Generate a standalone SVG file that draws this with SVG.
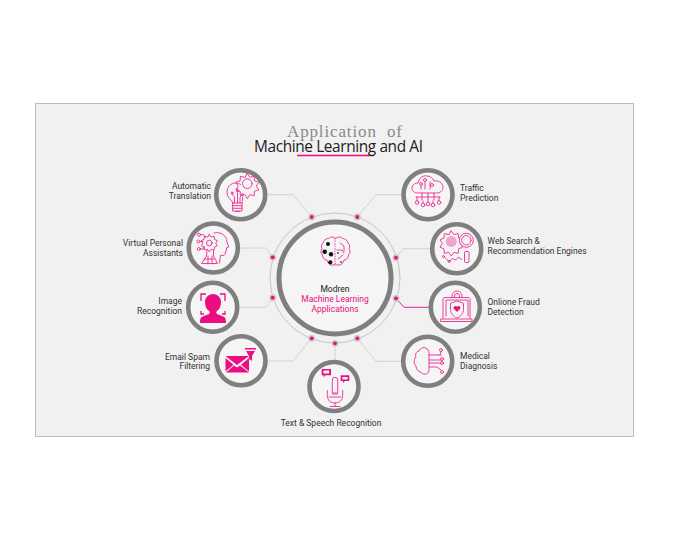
<svg xmlns="http://www.w3.org/2000/svg" width="680" height="539" viewBox="0 0 680 539">
<style>
.ring{fill:#f5f5f5;stroke:#7f7f7f;stroke-width:4.6}
.t{font-family:Roboto,"Liberation Sans",Arial,sans-serif;font-size:8.5px;fill:#333}
.r{text-anchor:end}
.m{text-anchor:middle}
.p{fill:#ec0d83}
.i{fill:none;stroke:#ee2a92;stroke-width:.9;stroke-linejoin:round;stroke-linecap:round}
.c{fill:none;stroke:#cfcfcf;stroke-width:.9}
.dh{fill:#c9c9c9}
.dc{fill:#ec0d83}
</style>
<rect width="680" height="539" fill="#fff"/>
<rect x="35.500" y="103.500" width="598" height="333" fill="#f1f1f1" stroke="#bdbdbd" stroke-width="1"/>
<g id="title">
<text x="287" y="136.500" font-family="Liberation Serif,serif" font-size="17" fill="#8a8a8a" textLength="115" lengthAdjust="spacing" xml:space="preserve">Application  of</text>
<path d="M297 155.500H374" stroke="#ec0d83" stroke-width="1.300"/>
<text x="254" y="151.700" font-family="Open Sans,sans-serif" font-size="15.400" fill="#222" textLength="169">Machine Learning and AI</text>
</g>
<g id="connectors">
<circle cx="335" cy="278" r="65" fill="none" stroke="#c4c4c4" stroke-width="1"/>
<path class="c" d="M268 194.700H293L311.700 217"/>
<path class="c" d="M240 248H266L272.700 257.300"/>
<path class="c" d="M240 307.300H266L272.700 297.700"/>
<path class="c" d="M268 361H293L311.700 338.300"/>
<path class="c" d="M401 194.700H376L357.300 217"/>
<path class="c" d="M430 248.700H403L396 257.700"/>
<path d="M429 307.300H404L396 298.300" fill="none" stroke="#ec0d83" stroke-width=".9"/>
<path class="c" d="M401 361.300H376L357.300 338.300"/>
<path class="c" d="M335 343.300V360"/>
<g class="dh"><circle cx="311.700" cy="217" r="3.400"/><circle cx="272.700" cy="257.300" r="3.400"/><circle cx="272.700" cy="297.700" r="3.400"/><circle cx="311.700" cy="338.300" r="3.400"/><circle cx="335" cy="343.300" r="3.400"/><circle cx="357.300" cy="217" r="3.400"/><circle cx="396" cy="257.700" r="3.400"/><circle cx="396" cy="298.300" r="3.400"/><circle cx="357.300" cy="338.300" r="3.400"/></g>
<g class="dc"><circle cx="311.700" cy="217" r="1.900"/><circle cx="272.700" cy="257.300" r="1.900"/><circle cx="272.700" cy="297.700" r="1.900"/><circle cx="311.700" cy="338.300" r="1.900"/><circle cx="335" cy="343.300" r="1.900"/><circle cx="357.300" cy="217" r="1.900"/><circle cx="396" cy="257.700" r="1.900"/><circle cx="396" cy="298.300" r="1.900"/><circle cx="357.300" cy="338.300" r="1.900"/></g>
</g>
<g id="center">
<circle cx="335" cy="278" r="56" fill="#f5f5f5" stroke="#7f7f7f" stroke-width="5"/>
<path class="i" d="M335 238c-2-1.500-5-1.500-6.500.5-3 0-5 2-5.500 4.500-2 1.500-2 4-1 5.500-1.500 2-1.500 5 .5 6.500 0 3 2 5 4.500 5 .5 3 3 5.500 6 5 1.500 0 2-.5 2.500-1 .5.500 1 1 2.500 1 3 .5 5.500-2 6-5 2.500 0 4.500-2 4.500-5 2-1.500 2-4.500 .5-6.500 1-1.500 1-4-1-5.500-.5-2.500-2.500-4.500-5.500-4.500-1.500-2-4.500-2-6.500-.5z"/>
<path d="M335 238V266" stroke="#ec0d83" stroke-width=".7" stroke-dasharray="1.500 1"/>
<path class="i" d="M340 243l4 3v5M337 250h5l2 3M338 259l5-4" stroke-width=".6"/>
<g fill="#111"><circle cx="328" cy="244" r="2"/><circle cx="324.700" cy="251.700" r="2.300"/><circle cx="331" cy="254.300" r="2.200"/><circle cx="330.300" cy="262.300" r="2.100"/></g>
<circle cx="338" cy="253" r="1" fill="#555"/><circle cx="341" cy="262" r="1" fill="#555"/>
<text x="335" y="292" class="t m" style="fill:#222">Modren</text>
<text x="335" y="302" class="t m" style="fill:#ec0d83">Machine Learning</text>
<text x="335" y="312" class="t m" style="fill:#ec0d83">Applications</text>
</g>
<g id="automatic-translation">
<circle class="ring" cx="240.700" cy="194.700" r="24.500"/>
<path class="i" d="M233 203c-1-3-6-5-6-11 0-5 4-9 8.500-9 2 0 3.500.5 5 1.500M242.500 197c.5 3-.5 4-.5 6M233 203h9v8h-9zM233 205.700h9M233 208.300h9M235.500 211.500h4"/>
<path class="i" d="M234.500 203v-6l-2.500-3M237.500 203v-10M240 203v-6l2-2M237.500 188.500v3"/>
<circle class="i" cx="232" cy="193" r="1"/><circle class="i" cx="237.500" cy="191" r="1"/><circle class="i" cx="242.500" cy="194.500" r="1"/>
<path class="i" d="M247.300 173.500l2.500 3.800 4.400-1 .3 4.500 4.300 1.400-2.500 3.800 2.500 3.800-4.300 1.400-.3 4.500-4.400-1-2.500 3.800-2.500-3.800-4.400 1-.3-4.500-4.300-1.400 2.500-3.800-2.500-3.800 4.300-1.400.3-4.500 4.400 1z"/>
<circle class="i" cx="247.300" cy="183.700" r="4.800"/>
<text class="t r" x="211" y="189.300">Automatic</text><text class="t r" x="211" y="199">Translation</text>
</g>
<g id="virtual-personal-assistants">
<circle class="ring" cx="213.300" cy="248" r="24.500"/>
<path class="i" d="M207 250l-.5 6-5 7.500h16l-4-7.500v-6M208 264v-8M212 264v-8M204 259h10"/>
<path class="i" d="M209.300 234.500l1.800 2.500 3-.6.400 3 2.800 1.200-1.500 2.600 1.500 2.600-2.800 1.200-.4 3-3-.6-1.800 2.500-1.800-2.500-3 .6-.4-3-2.800-1.200 1.500-2.600-1.500-2.600 2.800-1.200.4-3 3 .6z"/>
<circle class="i" cx="209.300" cy="243" r="2.800"/>
<path class="i" d="M200.500 234.700h3l2 2.500M199.800 241.500h3M200.300 249h3l1-2.500"/>
<circle class="i" cx="199" cy="234.700" r="1.500"/><circle class="i" cx="198.300" cy="241.500" r="1.500"/><circle class="i" cx="198.800" cy="249" r="1.500"/>
<path class="i" d="M214 233c7-2 13 3 13 9l1.700 5-2.200.8v3.200l-1.500 1 .5 2-1.500 1.500-3.500-.2-1 7.700"/>
<text class="t r" x="183" y="246">Virtual Personal</text><text class="t r" x="183" y="256">Assistants</text>
</g>
<g id="image-recognition">
<circle class="ring" cx="212.700" cy="307.300" r="24.500"/>
<path class="p" d="M200 323c0-5 1-6 4-7l5-2c1-1 1-2 0-3-3-2-4-6-4-9 0-5 4-8 8-8s8 3 8 8c0 3-1 7-4 9-1 1-1 2 0 3l5 2c3 1 4 2 4 7z"/>
<path d="M201 301v-7h5M220 294h5v7M201 311v3h3M225 311v3h-3" fill="none" stroke="#ec0d83" stroke-width="1.300"/>
<text class="t r" x="182" y="304">Image</text><text class="t r" x="182" y="313.500">Recognition</text>
</g>
<g id="email-spam-filtering">
<circle class="ring" cx="241" cy="360.700" r="24.500"/>
<path class="p" d="M225.500 356h23.500l-12 9zM225.500 358v13.500l8-6.800zM249 358v13.500l-8-6.800zM226 372.500h23l-9-7-3 2-3-2z"/>
<path class="p" d="M245 348h11v1.400h-11zM246 351h9l-3 5v5l-3-2v-3z"/>
<text class="t r" x="210" y="359.500">Email Spam</text><text class="t r" x="210" y="369">Filtering</text>
</g>
<g id="text-speech-recognition">
<circle class="ring" cx="334" cy="386.500" r="24.500"/>
<path d="M332.300 380a2.700 2.700 0 0 1 5.400 0v13h-5.400z" fill="#f5f5f5" stroke="#ee2a92" stroke-width=".9"/>
<path class="i" d="M327.300 390.500v5c0 4.500 3.300 7.500 7.700 7.500s7.700-3 7.700-7.500v-5M335 403v3.500M330 406.500h10M332.300 394h5.400M329 397h12"/>
<path class="p" d="M321.700 369h9.300v6.300h-5.500l-1.500 2-.5-2h-1.800zM340.700 375.300h8.600v5.700h-4.500l-1.500 2-.5-2h-2.100z"/>
<path d="M323.500 370.500h5.700v3h-5.700zM342.400 377h5.200v2.400h-5.200z" fill="#f5f5f5"/>
<text class="t m" x="331" y="426">Text &amp; Speech Recognition</text>
</g>
<g id="traffic-prediction">
<circle class="ring" cx="428" cy="194.700" r="24.500"/>
<path class="i" d="M418 193c-4 0-6-2-6-5s3-5 6-5c1-5 5-8 9-7 3 0 6 2 7 5 4-1 9 2 9 6 0 4-3 6-6 6zM428 193v9M422 193v7M434 193v7M416 197h24M417 197v4M423 201v2M433 201v2M439 197v4M425 182v7M430 182v7M421 186v3"/>
<g class="i"><circle cx="417" cy="202.500" r="1.800"/><circle cx="423" cy="205" r="1.800"/><circle cx="428" cy="204" r="1.800"/><circle cx="433" cy="205" r="1.800"/><circle cx="439" cy="202.500" r="1.800"/><circle cx="425" cy="180" r="1.500"/><circle cx="421" cy="184" r="1.500"/><circle cx="432" cy="185" r="1.500"/></g>
<text class="t" x="460" y="191">Traffic</text><text class="t" x="460" y="200.500">Prediction</text>
</g>
<g id="web-search">
<circle class="ring" cx="456.700" cy="248.700" r="24.500"/>
<path class="i" d="M451.300 231l2.600 3.600 4.300-1 .4 4.500 4 1.700-2.300 3.700 2.300 3.700-4 1.700-.4 4.500-4.300-1-2.600 3.600-2.600-3.600-4.300 1-.4-4.500-4-1.700 2.300-3.700-2.300-3.700 4-1.700.4-4.500 4.300 1z"/>
<circle cx="451.300" cy="241.500" r="5.500" fill="#eea6cf"/>
<circle cx="466.300" cy="240.300" r="7" fill="#f5f5f5" stroke="#ee2a92" stroke-width=".9"/><circle class="i" cx="466.300" cy="240.300" r="4.700"/>
<rect class="i" x="464.500" y="251.500" width="4.500" height="11" rx="1"/>
<path class="i" d="M444.500 257l4.500 4.500 3.500-3 3 1.500 3-3 3 2.500"/>
<circle class="i" cx="443.500" cy="256.500" r="1"/><circle class="i" cx="449" cy="261.500" r="1"/>
<text class="t" x="487.500" y="244">Web Search &amp;</text><text class="t" x="487.500" y="253.500">Recommendation Engines</text>
</g>
<g id="fraud-detection">
<circle class="ring" cx="455.300" cy="307.300" r="24.500"/>
<path class="i" d="M443 318.500v-19a2 2 0 0 1 2-2h24a2 2 0 0 1 1 2v19M446 316v-16h22v16M441 319h31v2.500h-31zM452 297v-1a5 5 0 0 1 10 0v1M454.500 297v-1a2.500 2.500 0 0 1 5 0v1"/>
<path fill="#f5f5f5" stroke="#ee2a92" stroke-width=".9" d="M457 301l6.500 2.300v6c0 4-3 7.500-6.500 8.700-3.500-1.200-6.500-4.700-6.500-8.700v-6z"/>
<path class="p" d="M457 312l-3.200-3.200c-1.300-2 2-4 3.200-2 1.200-2 4.500 0 3.200 2z"/>
<text class="t" x="487.500" y="305">Onlione Fraud</text><text class="t" x="487.500" y="315">Detection</text>
</g>
<g id="medical-diagnosis">
<circle class="ring" cx="427.700" cy="361.300" r="24.500"/>
<path class="i" d="M427 349c-2-3-7-1-8 2-3 0-4 4-3 6-3 3-2 7 0 9 0 3 2 6 5 6 1 2 5 3 7 1 1-1 1-3 1-5v-15c0-2-1-4-2-4zM429 355h12M429 360h12M429 363h12M429 367h8l4 3"/>
<g class="i"><circle cx="441" cy="350" r="1.500"/><circle cx="442" cy="359" r="1.500"/><circle cx="442" cy="363" r="1.500"/><circle cx="442" cy="372" r="1.500"/></g>
<path class="i" d="M440 355l1-3.500"/>
<text class="t" x="460" y="359">Medical</text><text class="t" x="460" y="369">Diagnosis</text>
</g>
</svg>
